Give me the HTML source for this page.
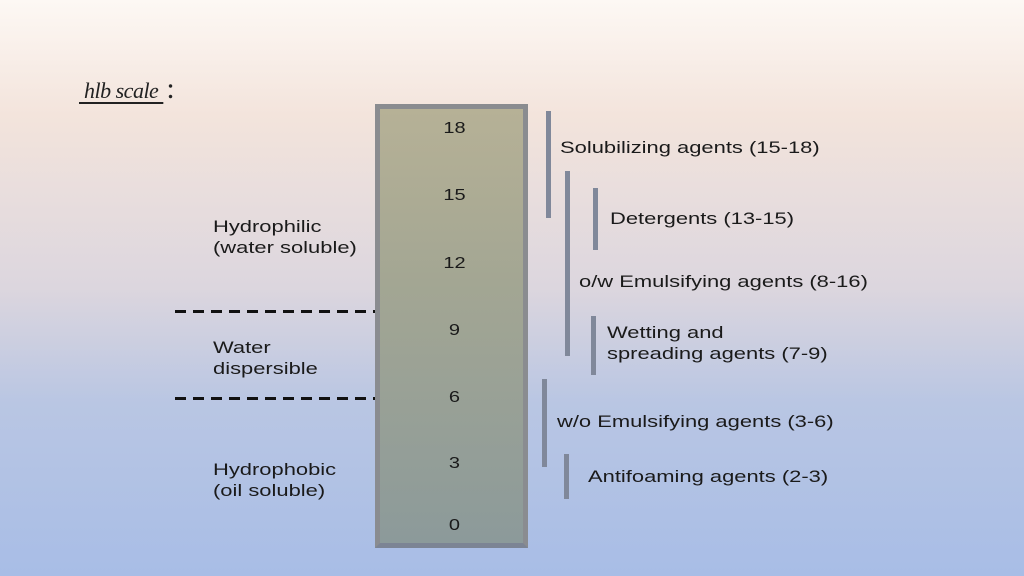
<!DOCTYPE html>
<html><head><style>
body{margin:0;width:1024px;height:576px;overflow:hidden;position:relative;font-family:"Liberation Sans",sans-serif;
background:linear-gradient(to bottom,#fdf8f4 0%,#f3e4dc 20%,#dcd6de 50%,#b9c6e3 70%,#a8bde6 100%);}
.t{position:absolute;font-size:17px;color:#1a1a1a;line-height:21px;white-space:nowrap;transform:scaleX(1.29);transform-origin:0 0}
.n{position:absolute;font-size:16px;color:#1a1a1a;width:153px;text-align:center;left:378px;transform:scaleX(1.25)}
.b{position:absolute;background:#80889a;width:5px}
.d{position:absolute;left:175px;width:200px;height:3px;background:repeating-linear-gradient(to right,#111 0 11px,transparent 11px 18px)}
</style></head><body>
<div style="position:absolute;left:79px;top:72px;font-family:'Liberation Serif',serif;font-style:italic;font-size:22px;color:#222;letter-spacing:-0.5px"><span style="text-decoration:underline;text-underline-offset:4px">&nbsp;hlb scale&nbsp;</span><span style="font-size:30px;font-style:normal;margin-left:3px">:</span></div>
<div style="position:absolute;left:375px;top:104px;width:143px;height:434px;border:5px solid #8a8c90;border-bottom-color:#7c8494;background:linear-gradient(#b6b196,#a3a693 40%,#8c9a9a)"></div>
<div class="n" style="top:120px">18</div>
<div class="n" style="top:187px">15</div>
<div class="n" style="top:255px">12</div>
<div class="n" style="top:322px">9</div>
<div class="n" style="top:389px">6</div>
<div class="n" style="top:455px">3</div>
<div class="n" style="top:517px">0</div>
<div class="d" style="top:310px"></div>
<div class="d" style="top:397px"></div>
<div class="t" style="left:213px;top:216px">Hydrophilic<br>(water soluble)</div>
<div class="t" style="left:213px;top:337px">Water<br>dispersible</div>
<div class="t" style="left:213px;top:459px">Hydrophobic<br>(oil soluble)</div>
<div class="b" style="left:546px;top:111px;height:107px"></div>
<div class="b" style="left:565px;top:171px;height:185px"></div>
<div class="b" style="left:593px;top:188px;height:62px"></div>
<div class="b" style="left:591px;top:316px;height:59px"></div>
<div class="b" style="left:542px;top:379px;height:88px"></div>
<div class="b" style="left:564px;top:454px;height:45px"></div>
<div class="t" style="left:560px;top:137px">Solubilizing agents (15-18)</div>
<div class="t" style="left:610px;top:208px">Detergents (13-15)</div>
<div class="t" style="left:579px;top:271px">o/w Emulsifying agents (8-16)</div>
<div class="t" style="left:607px;top:322px">Wetting and<br>spreading agents (7-9)</div>
<div class="t" style="left:557px;top:411px">w/o Emulsifying agents (3-6)</div>
<div class="t" style="left:588px;top:466px">Antifoaming agents (2-3)</div>
</body></html>
